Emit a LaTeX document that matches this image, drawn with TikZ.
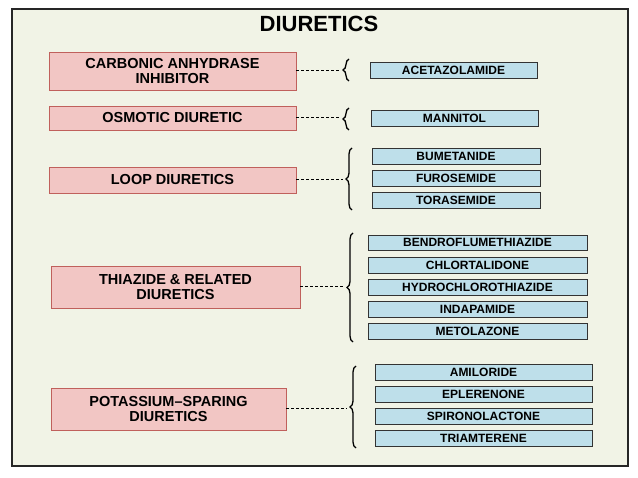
\documentclass[tikz,border=0pt]{standalone}
\usepackage{fontspec}
\setmainfont{Liberation Sans}
\usetikzlibrary{decorations.pathreplacing}
\definecolor{bg}{HTML}{F1F3E6}
\definecolor{pinkf}{HTML}{F2C6C4}
\definecolor{pinkd}{HTML}{C0605C}
\definecolor{bluef}{HTML}{BEDFEA}
\tikzset{x=1pt,y=-1pt,
 cls/.style={draw=pinkd,fill=pinkf,line width=0.8pt,font=\bfseries\fontsize{14.5}{15}\selectfont,align=center,inner sep=0pt},
 drug/.style={draw=black!80,fill=bluef,line width=0.9pt,font=\bfseries\fontsize{12}{12}\selectfont,inner sep=0pt},
 conn/.style={line width=1pt,dash pattern=on 3pt off 2pt},
 br/.style={decorate,decoration={brace,amplitude=6pt},line width=1.3pt}}
\newcommand{\cbox}[6]{\node[cls,minimum width=#3-#2,minimum height=#5-#4] (#1) at ({(#2+#3)/2},{(#4+#5)/2}) {#6};}
\newcommand{\dbox}[6]{\node[drug,minimum width=#3-#2,minimum height=#5-#4] (#1) at ({(#2+#3)/2},{(#4+#5)/2}) {#6};}
\begin{document}
\begin{tikzpicture}
\useasboundingbox (0,0) rectangle (638,478);
\fill[white] (0,0) rectangle (638,478);
\draw[fill=bg,line width=1.5pt,draw=black!85] (12,9) rectangle (628,466);
\node[font=\bfseries\fontsize{22}{22}\selectfont] (title) at (319,24) {DIURETICS};
\cbox{c1}{49}{296}{52}{90}{CARBONIC ANHYDRASE\\INHIBITOR}
\cbox{c2}{49}{296}{106}{130}{OSMOTIC DIURETIC}
\cbox{c3}{49}{296}{167}{193}{LOOP DIURETICS}
\cbox{c4}{51}{300}{266}{308}{THIAZIDE \& RELATED\\DIURETICS}
\cbox{c5}{51}{286}{388}{430}{POTASSIUM–SPARING\\DIURETICS}
\dbox{a1}{370}{537}{62}{78}{ACETAZOLAMIDE}
\dbox{b1}{371}{538}{110}{126}{MANNITOL}
\dbox{l1}{372}{540}{148}{164}{BUMETANIDE}
\dbox{l2}{372}{540}{170}{186}{FUROSEMIDE}
\dbox{l3}{372}{540}{192}{208}{TORASEMIDE}
\dbox{t1}{368}{587}{235}{250}{BENDROFLUMETHIAZIDE}
\dbox{t2}{368}{587}{257}{273}{CHLORTALIDONE}
\dbox{t3}{368}{587}{279}{295}{HYDROCHLOROTHIAZIDE}
\dbox{t4}{368}{587}{301}{317}{INDAPAMIDE}
\dbox{t5}{368}{587}{323}{339}{METOLAZONE}
\dbox{p1}{375}{592}{364}{380}{AMILORIDE}
\dbox{p2}{375}{592}{386}{402}{EPLERENONE}
\dbox{p3}{375}{592}{408}{424}{SPIRONOLACTONE}
\dbox{p4}{375}{592}{430}{446}{TRIAMTERENE}
% braces
\draw[br] (349,81) -- (349,59);
\coordinate (k1) at (340,71);
\draw[br] (349,130) -- (349,108);
\coordinate (k2) at (340,118);
\draw[br] (352,210) -- (352,148);
\coordinate (k3) at (343,180);
\draw[br] (353,342) -- (353,233);
\coordinate (k4) at (344,287);
\draw[br] (356,448) -- (356,366);
\coordinate (k5) at (347,409);
\draw[conn] (c1.east |- k1) -- (k1);
\draw[conn] (c2.east |- k2) -- (k2);
\draw[conn] (c3.east) -- (k3);
\draw[conn] (c4.east) -- (k4);
\draw[conn] (c5.east) -- (k5);
\end{tikzpicture}
\end{document}
